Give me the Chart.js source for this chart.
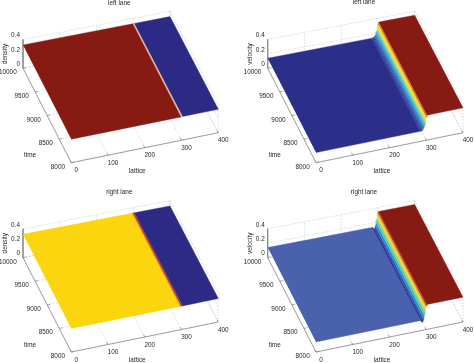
<!DOCTYPE html>
<html>
<head>
<meta charset="utf-8">
<style>
    html, body { margin: 0; padding: 0; background: #fff; overflow: hidden; }
    #page { position: relative; width: 474px; height: 363px; overflow: hidden; }
    canvas { position: absolute; filter: blur(0.35px); }
</style>
<script src="https://cdn.jsdelivr.net/npm/chart.js@4"></script>
</head>
<body>
<div id="page"></div>
<script>
//axis ticks
var latticeTicks = [0, 100, 200, 300, 400];
var timeTicks = [8000, 8500, 9000, 9500, 10000];
var valueTicks = [0, 0.2, 0.4];
var valueTickLabels = ["0", "0.2", "0.4"];

//profiles along the lattice (flat in time)
var densityLeftLattice = [0, 299, 301, 303, 400];
var densityLeft = [0.325, 0.325, 0.325, 0.325, 0.325];

var densityRightLattice = [0, 296, 299, 303, 400];
var densityRight = [0.325, 0.325, 0.325, 0.325, 0.325];

var velocityLeftLattice = [0, 284, 287, 289, 291, 293, 295, 297, 298, 299, 300, 302, 400];
var velocityLeft = [0.14, 0.14, 0.142, 0.148, 0.158, 0.172, 0.195, 0.225, 0.25, 0.285, 0.32, 0.345, 0.345];

var velocityRightLattice = [0, 286, 288, 291, 293, 295, 297, 298, 299, 300, 302, 400];
var velocityRight = [0.14, 0.14, 0.115, 0.115, 0.15, 0.195, 0.235, 0.27, 0.3, 0.33, 0.345, 0.345];

//one colour for each strip between two lattice values
var densityLeftColors = ["#871b13", "#dc9a7c", "#e8c0a0", "#2c2a84"];
var densityRightColors = ["#fbd50e", "#f09010", "#b8340f", "#2c2a84"];
var velocityLeftColors = ["#2c2f8a", "#2b348f", "#2a3d9c", "#2a4cae", "#2c66c0", "#2f88cc", "#45b4cc", "#7cd0a0", "#c4e060", "#f4e020", "#e87818", "#871b13"];
var velocityRightColors = ["#4a62ad", "#2a2f8f", "#24258a", "#2a50b4", "#2f90cc", "#5cc8b0", "#a0d870", "#f0e030", "#f0a020", "#c03010", "#871b13"];

//where each little 3d box sits inside its canvas
var panels = [
    { title: "left lane", zName: "density", lattice: densityLeftLattice, values: densityLeft, colors: densityLeftColors, left: 0, top: 0, dx: 0, dy: 0, titleY: 3.7 },
    { title: "left lane", zName: "velocity", lattice: velocityLeftLattice, values: velocityLeft, colors: velocityLeftColors, left: 237, top: 0, dx: 7.7, dy: 0, titleY: 2.5 },
    { title: "right lane", zName: "density", lattice: densityRightLattice, values: densityRight, colors: densityRightColors, left: 0, top: 182, dx: 0, dy: 7.3, titleY: 10 },
    { title: "right lane", zName: "velocity", lattice: velocityRightLattice, values: velocityRight, colors: velocityRightColors, left: 237, top: 182, dx: 7.7, dy: 7.3, titleY: 10 }
];

var FONT = '6.4px "Liberation Sans", Arial, sans-serif';
var TEXT_COLOR = "#262626";
var AXIS_COLOR = "#8a8a8a";
var GRID_COLOR = "#c6ccd2";

//floor corners of the box, in canvas units
var FRONT = [71.3, 162.7];
var RIGHT = [218.3, 132.7];
var LEFT = [23, 68.3];
var BACK = [170, 40];
var Z_UNIT = 72;

//lattice, time, value -> position on the hidden x and y scales
function project(lattice, time, value, panel) {
    var u = lattice / 400;
    var v = (time - 8000) / 2000;
    var x = (1 - u) * (1 - v) * FRONT[0] + u * (1 - v) * RIGHT[0] + (1 - u) * v * LEFT[0] + u * v * BACK[0];
    var y = (1 - u) * (1 - v) * FRONT[1] + u * (1 - v) * RIGHT[1] + (1 - u) * v * LEFT[1] + u * v * BACK[1];
    return { x: x + panel.dx, y: y + panel.dy - value * Z_UNIT };
}

function lineSet(points, color, dotted, panel) {
    return {
        data: points.map(function (p) { return project(p[0], p[1], p[2], panel); }),
        showLine: true,
        pointRadius: 0,
        borderColor: color,
        borderWidth: dotted ? 0.7 : 0.8,
        borderDash: dotted ? [1.5, 1.5] : []
    };
}

function boxLines(panel) {
    var sets = [];
    var top = valueTicks[valueTicks.length - 1];

    //dotted walls and floor
    latticeTicks.forEach(function (l) {
        sets.push(lineSet([[l, 8000, 0], [l, 10000, 0], [l, 10000, top]], GRID_COLOR, true, panel));
    });
    timeTicks.forEach(function (t) {
        sets.push(lineSet([[0, t, 0], [400, t, 0], [400, t, top]], GRID_COLOR, true, panel));
    });
    valueTicks.forEach(function (z) {
        sets.push(lineSet([[0, 10000, z], [400, 10000, z], [400, 8000, z]], GRID_COLOR, true, panel));
    });

    //solid axes
    sets.push(lineSet([[0, 10000, top], [0, 10000, 0], [0, 8000, 0], [400, 8000, 0]], AXIS_COLOR, false, panel));
    latticeTicks.forEach(function (l) {
        sets.push(lineSet([[l, 8000, 0], [l, 8050, 0]], AXIS_COLOR, false, panel));
    });
    timeTicks.forEach(function (t) {
        sets.push(lineSet([[0, t, 0], [8, t, 0]], AXIS_COLOR, false, panel));
    });
    return sets;
}

function surfaceStrips(panel) {
    var sets = [];
    for (var i = 0; i < panel.colors.length; i++) {
        var a = panel.lattice[i];
        var b = panel.lattice[i + 1];
        sets.push({
            data: [
                project(a, 8000, panel.values[i], panel),
                project(b, 8000, panel.values[i + 1], panel),
                project(b, 10000, panel.values[i + 1], panel),
                project(a, 10000, panel.values[i], panel)
            ],
            showLine: true,
            pointRadius: 0,
            fill: "shape",
            backgroundColor: panel.colors[i],
            borderColor: panel.colors[i],
            borderWidth: 0.4
        });
    }
    return sets;
}

//tick labels and names, placed through the same scales
var boxText = {
    id: "boxText",
    afterDraw: function (chart) {
        var panel = chart.options.plugins.boxText.panel;
        var ctx = chart.ctx;
        var sx = chart.scales.x;
        var sy = chart.scales.y;

        function put(text, x, y, align, angle) {
            ctx.save();
            ctx.translate(sx.getPixelForValue(x), sy.getPixelForValue(y));
            if (angle) ctx.rotate(angle);
            ctx.textAlign = align;
            ctx.textBaseline = "middle";
            ctx.fillText(text, 0, 0);
            ctx.restore();
        }

        ctx.save();
        ctx.font = FONT;
        ctx.fillStyle = TEXT_COLOR;
        latticeTicks.forEach(function (l) {
            var p = project(l, 8000, 0, panel);
            put(String(l), p.x + 5, p.y + 8, "center");
        });
        timeTicks.forEach(function (t) {
            var p = project(0, t, 0, panel);
            put(String(t), p.x - 6.3, p.y + 4.3, "right");
        });
        valueTicks.forEach(function (z, i) {
            var p = project(0, 10000, z, panel);
            put(valueTickLabels[i], p.x - 3, p.y - 4, "right");
        });
        put(panel.title, 119.3 + panel.dx, panel.titleY, "center");
        put(panel.zName, 5.7 + panel.dx, 54 + panel.dy, "center", -Math.PI / 2);
        put("time", 30 + panel.dx, 155.7 + panel.dy, "center");
        put("lattice", 137.3 + panel.dx, 171.3 + panel.dy, "center");
        ctx.restore();
    }
};

panels.forEach(function (panel) {
    var canvas = document.createElement("canvas");
    canvas.width = 237;
    canvas.height = 182;
    canvas.style.left = panel.left + "px";
    canvas.style.top = panel.top + "px";
    document.getElementById("page").appendChild(canvas);

    //chart.js paints the first dataset last, so flip the paint order
    var sets = boxLines(panel).concat(surfaceStrips(panel)).reverse();

    new Chart(canvas, {
        type: "scatter",
        data: { datasets: sets },
        plugins: [boxText],
        options: {
            responsive: false,
            animation: false,
            layout: { padding: 0 },
            scales: {
                x: { type: "linear", min: 0, max: 237, display: false },
                y: { type: "linear", min: 0, max: 182, reverse: true, display: false }
            },
            plugins: {
                legend: { display: false },
                tooltip: { enabled: false },
                boxText: { panel: panel }
            }
        }
    });
});
</script>
</body>
</html>
